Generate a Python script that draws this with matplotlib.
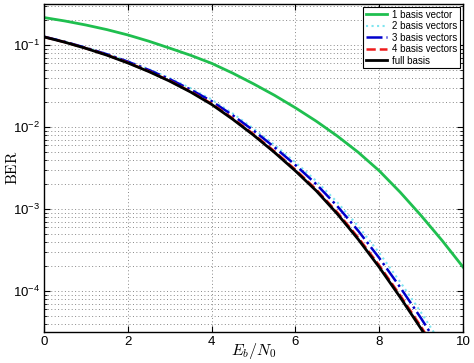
import matplotlib
matplotlib.use("Agg")
import matplotlib.pyplot as plt
import numpy as np
from matplotlib.ticker import LogLocator, NullFormatter, FuncFormatter

ebn0 = [0, 0.5, 1, 1.5, 2, 2.5, 3, 3.5, 4, 4.5, 5, 5.5, 6, 6.5, 7, 7.5, 8, 8.5, 9, 9.5, 10]
ber_1 = [0.2153, 0.1954, 0.1746, 0.1535, 0.1321, 0.1109, 0.0912, 0.0746, 0.0596, 0.0453,
         0.0335, 0.0243, 0.0171, 0.01172, 0.00774, 0.00490, 0.00292, 0.00160, 8.30e-4, 4.13e-4, 1.96e-4]
ber_2 = [0.1262, 0.1094, 0.0932, 0.0780, 0.0636, 0.0506, 0.0393, 0.0296, 0.0216, 0.01465,
         0.00956, 0.00604, 0.00370, 0.00219, 0.001205, 6.15e-4, 2.92e-4, 1.29e-4, 5.47e-5, 2.19e-5, 8.21e-6]
ber_3 = [0.1258, 0.1089, 0.0922, 0.0769, 0.0625, 0.0495, 0.0382, 0.0285, 0.0206, 0.01391,
         0.00904, 0.00566, 0.00343, 0.00200, 0.001081, 5.41e-4, 2.53e-4, 1.11e-4, 4.64e-5, 1.84e-5, 6.87e-6]
ber_4 = [0.1250, 0.1078, 0.0909, 0.0754, 0.0608, 0.0477, 0.0365, 0.0270, 0.0192, 0.01275,
         0.00816, 0.00504, 0.00301, 0.00172, 9.06e-4, 4.46e-4, 2.05e-4, 8.85e-5, 3.66e-5, 1.43e-5, 5.31e-6]
ber_full = [0.1250, 0.1076, 0.0906, 0.0749, 0.0602, 0.0473, 0.0361, 0.0266, 0.0188, 0.01243,
            0.00794, 0.00489, 0.00291, 0.00166, 8.70e-4, 4.26e-4, 1.95e-4, 8.40e-5, 3.46e-5, 1.35e-5, 5.0e-6]
labels = ["1 basis vector", "2 basis vectors", "3 basis vectors", "4 basis vectors", "full basis"]

plt.rcParams['font.family'] = ['Liberation Sans', 'DejaVu Sans']
plt.rcParams['mathtext.fontset'] = 'cm'

fig = plt.figure(figsize=(4.74, 3.63), dpi=100)
ax = fig.add_axes([0.0928, 0.0854, 0.884, 0.904])

ax.semilogy(ebn0, ber_1, color='#1fbf4f', lw=2.0, label=labels[0])
ax.semilogy(ebn0, ber_2, color='#7fe5f0', lw=1.5, ls=':', label=labels[1])
ax.semilogy(ebn0, ber_3, color='#0000cc', lw=1.8, ls='-.', label=labels[2])
ax.semilogy(ebn0, ber_4, color='#ee1c1c', lw=1.8, ls='--', label=labels[3])
ax.semilogy(ebn0, ber_full, color='black', lw=2.0, label=labels[4])

ax.set_xlim(0, 10)
ax.set_ylim(10**-4.5, 10**-0.5)
ax.set_xticks([0, 2, 4, 6, 8, 10])
ax.yaxis.set_major_locator(LogLocator(base=10, numticks=10))
ax.yaxis.set_minor_locator(LogLocator(base=10, subs=range(2, 10), numticks=20))
ax.yaxis.set_minor_formatter(NullFormatter())


def fmt(v, pos):
    e = int(round(np.log10(v)))
    return r'$\mathregular{10^{%d}}$' % e


ax.yaxis.set_major_formatter(FuncFormatter(fmt))
ax.tick_params(which='both', direction='in', top=True, right=True, labelsize=9.5)
ax.tick_params(which='major', length=4, pad=3)
ax.tick_params(which='minor', length=2)
gstyle = dict(ls=(0, (1, 2.5)), color='#888888', lw=0.7)
ax.grid(True, which='major', **gstyle)
ax.grid(True, which='minor', axis='y', **gstyle)
for s in ax.spines.values():
    s.set_linewidth(1.0)

ax.set_xlabel(r'$E_b/N_0$', fontsize=11.5)
ax.xaxis.set_label_coords(0.5, -0.028)
ax.set_ylabel(r'$\mathrm{BER}$', fontsize=11)
ax.yaxis.set_label_coords(-0.058, 0.5)

leg = ax.legend(loc='upper right', fontsize=7, handlelength=2.2, fancybox=False,
                framealpha=1, edgecolor='black', borderpad=0.3, labelspacing=0.15,
                handletextpad=0.5, borderaxespad=0.3)
leg.get_frame().set_linewidth(0.8)

fig.savefig('out.png', dpi=100)
